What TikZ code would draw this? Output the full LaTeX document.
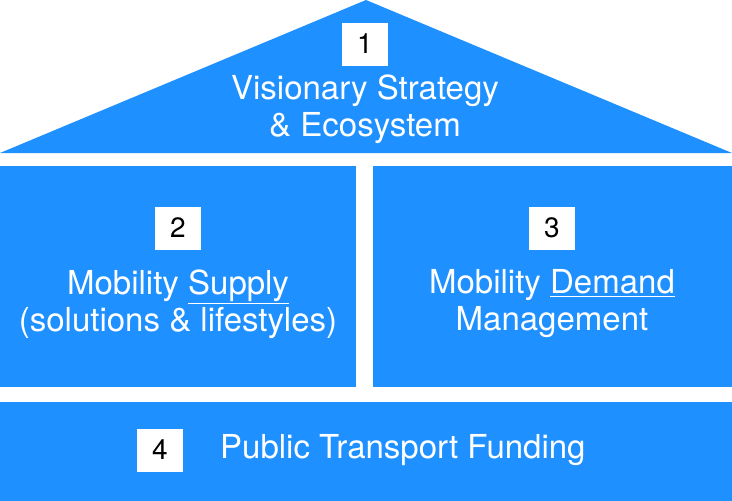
\documentclass[tikz,border=0pt]{standalone}
\usepackage{fontspec}
\setmainfont{TeX Gyre Heros}
\usetikzlibrary{positioning,calc}
\definecolor{houseblue}{RGB}{30,144,255}

\begin{document}
\begin{tikzpicture}[
  x=1pt,y=-1pt,
  every node/.style={font=\fontsize{28}{35}\selectfont},
  block/.style={rectangle,fill=houseblue,inner sep=0pt,anchor=north west},
  label/.style={text=white,align=center,inner sep=0pt,font=\fontsize{33}{37}\selectfont},
  numbox/.style={rectangle,fill=white,text=black,minimum width=46pt,minimum height=43pt,inner sep=0pt}
]
\useasboundingbox (0,0) rectangle (732,501);
% roof
\fill[houseblue] (0,153) -- (366,0) -- (732,153) -- cycle;
% walls and floor
\node[block,minimum width=356pt,minimum height=221pt] (left) at (0,166) {};
\node[block,minimum width=359pt,minimum height=221pt] (right) at (373,166) {};
\node[block,minimum width=732pt,minimum height=99pt] (floor) at (0,402) {};
% numbers
\node[numbox] (n1) at (365,44) {1};
\node[numbox] (n2) at (178,228) {2};
\node[numbox] (n3) at (552,228) {3};
\node[numbox] (n4) at (160,450) {4};
% texts
\node[label,below=9pt of n1] (t1) {Visionary Strategy\\\& Ecosystem};
\node[label,below=20pt of n2] (t2) {Mobility \underline{Supply}\\(solutions \& lifestyles)};
\node[label,below=20pt of n3] (t3) {Mobility \underline{Demand}\\Management};
\node[label,anchor=west] (t4) at (220,450) {Public Transport Funding};
\end{tikzpicture}
\end{document}
